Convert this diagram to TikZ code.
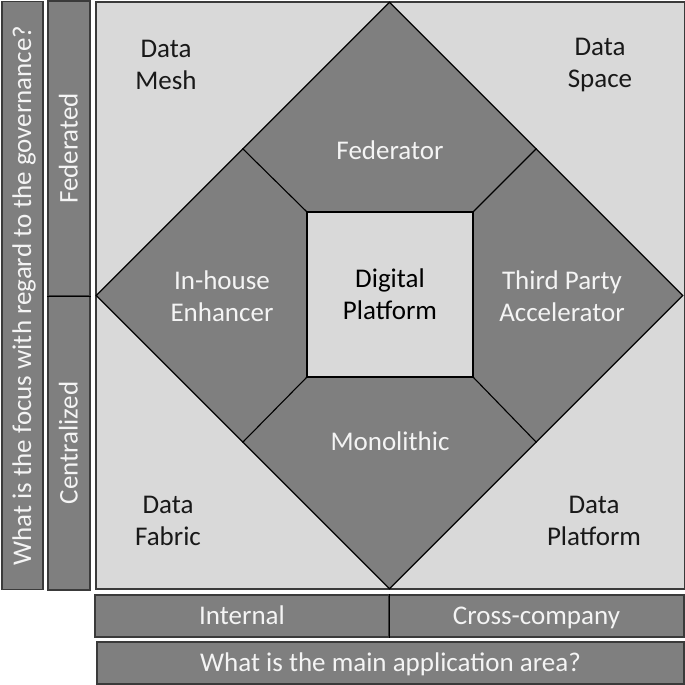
\documentclass[tikz,border=0pt]{standalone}
\usepackage{fontspec}
\setmainfont{Carlito}
\usetikzlibrary{shapes.geometric}
\definecolor{quadDark}{HTML}{7F7F7F}
\definecolor{quadLight}{HTML}{D9D9D9}
\definecolor{quadLine}{HTML}{3A3A3A}
\definecolor{quadText}{HTML}{F4F4F4}
\tikzset{
  quadfig/.style={
    x=1pt, y=-1pt,
    every node/.append style={font=\fontsize{27}{32}\selectfont},
  },
  axisbar/.style={
    draw=quadLine, line width=1.3pt, fill=quadDark, text=quadText,
    align=center, inner sep=0pt, text height=17pt, text depth=0pt,
  },
  % Balken an der Seite: Text um 90 Grad gedreht, daher Breite = Laenge.
  sidebar/.style={axisbar, rotate=90},
  fieldbox/.style={draw=quadLine, line width=1.3pt, fill=quadLight, inner sep=0pt},
  hubnode/.style={diamond, draw=black, line width=1.3pt, fill=quadDark, inner sep=0pt,
    minimum width=587pt, minimum height=587pt},
  corenode/.style={draw=black, line width=1.1pt, fill=quadLight, align=center, inner sep=0pt,
    minimum width=166pt, minimum height=165pt},
  segment/.style={text=quadText, align=center},
  quadlabel/.style={text=black!90, align=center},
  spoke/.style={draw=black, line width=1.1pt},
  divider/.style={draw=black, line width=1.3pt},
}

\begin{document}
\begin{tikzpicture}[quadfig]
  \useasboundingbox (0,0) rectangle (685,685);
  \node[sidebar, minimum width=588pt, minimum height=41pt] (GovQuestion) at (22.5,295.5) {What is the focus with regard to the governance?};
  \node[sidebar, minimum width=295pt, minimum height=42pt] (Federated) at (69,148.5) {Federated};
  \node[sidebar, minimum width=294pt, minimum height=42pt] (Centralized) at (69,443) {Centralized};
  \node[fieldbox, minimum width=588.5pt, minimum height=587pt] (Field) at (390.25,295.5) {};
  \node[hubnode] (Hub) at (389.5,295.5) {};
  \node[corenode] (DigitalPlatform) at (390,294.5) {Digital\\Platform};
  \draw[spoke] (DigitalPlatform.north west) -- (Hub.north west);
  \draw[spoke] (DigitalPlatform.north east) -- (Hub.north east);
  \draw[spoke] (DigitalPlatform.south west) -- (Hub.south west);
  \draw[spoke] (DigitalPlatform.south east) -- (Hub.south east);
  \node[segment] (Federator) at (390,150) {Federator};
  \node[segment] (Enhancer) at (222,296) {In-house\\Enhancer};
  \node[segment] (Accelerator) at (562,296) {Third Party\\Accelerator};
  \node[segment] (Monolithic) at (390,441) {Monolithic};
  \node[quadlabel] (DataMesh) at (166,65) {Data\\Mesh};
  \node[quadlabel] (DataSpace) at (600,65) {Data\\Space};
  \node[quadlabel] (DataFabric) at (168,521) {Data\\Fabric};
  \node[quadlabel] (DataPlatform) at (594,521) {Data\\Platform};
  \node[axisbar, minimum width=294pt, minimum height=42pt] (Internal) at (242,616) {Internal};
  \node[axisbar, minimum width=295pt, minimum height=42pt] (CrossCompany) at (536.5,616) {Cross-company};
  \node[axisbar, minimum width=587pt, minimum height=42pt] (AreaQuestion) at (390.5,663) {What is the main application area?};
  \draw[divider] (Federated.north west) -- (Federated.south west);
  \draw[divider] (Internal.north east) -- (Internal.south east);
\end{tikzpicture}
\end{document}
